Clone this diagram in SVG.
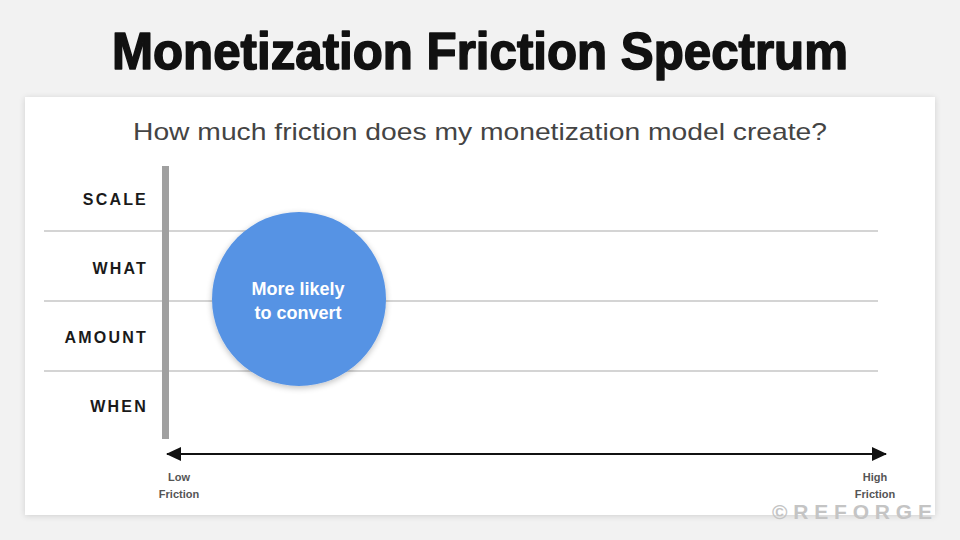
<svg xmlns="http://www.w3.org/2000/svg" width="960" height="540" viewBox="0 0 960 540">
<defs>
<filter id="sh" x="-5%" y="-5%" width="110%" height="110%"><feGaussianBlur in="SourceAlpha" stdDeviation="3"/><feOffset dy="1"/><feComponentTransfer><feFuncA type="linear" slope="0.15"/></feComponentTransfer><feMerge><feMergeNode/><feMergeNode in="SourceGraphic"/></feMerge></filter>
<filter id="csh" x="-20%" y="-20%" width="140%" height="140%"><feGaussianBlur in="SourceAlpha" stdDeviation="3"/><feOffset dy="2"/><feComponentTransfer><feFuncA type="linear" slope="0.25"/></feComponentTransfer><feMerge><feMergeNode/><feMergeNode in="SourceGraphic"/></feMerge></filter>
<marker id="ah" markerWidth="15" markerHeight="14" refX="14" refY="7" orient="auto-start-reverse" markerUnits="userSpaceOnUse"><path d="M0,0 L15,7 L0,14 Z" fill="#111"/></marker>
<style>
.row{font-family:"Liberation Sans",Arial,sans-serif;font-size:16px;font-weight:bold;letter-spacing:2.2px;fill:#1a1a1a;text-anchor:end}
.grid{stroke:#d4d4d4;stroke-width:2}
.ax{font-family:"Liberation Sans",Arial,sans-serif;font-size:11px;font-weight:bold;fill:#555;text-anchor:middle}
.bt{font-family:"Liberation Sans",Arial,sans-serif;font-size:18px;font-weight:bold;fill:#fff;text-anchor:middle}
</style>
</defs>
<rect width="960" height="540" fill="#f2f2f2"/>
<text x="480" y="69" text-anchor="middle" font-family="Liberation Sans,Arial,sans-serif" font-size="52" font-weight="900" fill="#111" stroke="#111" stroke-width="1.6" stroke-linejoin="round" textLength="736" lengthAdjust="spacingAndGlyphs">Monetization Friction Spectrum</text>
<rect x="25" y="97" width="910" height="418" fill="#fff" filter="url(#sh)"/>
<text x="480" y="140" text-anchor="middle" font-family="Liberation Sans,Arial,sans-serif" font-size="24" fill="#444" textLength="694" lengthAdjust="spacingAndGlyphs">How much friction does my monetization model create?</text>
<g id="grid">
<line class="grid" x1="44" y1="231" x2="878" y2="231"/>
<line class="grid" x1="44" y1="301" x2="878" y2="301"/>
<line class="grid" x1="44" y1="371" x2="878" y2="371"/>
</g>
<rect id="axis-bar" x="162" y="166" width="7" height="273" fill="#a0a0a0"/>
<g id="labels">
<text class="row" x="148" y="205">SCALE</text>
<text class="row" x="148" y="274">WHAT</text>
<text class="row" x="148" y="343">AMOUNT</text>
<text class="row" x="148" y="412">WHEN</text>
</g>
<g id="bubble">
<circle cx="299" cy="299" r="87" fill="#5793e4" filter="url(#csh)"/>
<text class="bt" x="298" y="295">More likely</text>
<text class="bt" x="298" y="319">to convert</text>
</g>
<g id="connectors">
<line x1="167" y1="454" x2="886" y2="454" stroke="#111" stroke-width="2" marker-start="url(#ah)" marker-end="url(#ah)"/>
</g>
<g id="low"><text class="ax" x="179" y="481">Low</text><text class="ax" x="179" y="498">Friction</text></g>
<g id="high"><text class="ax" x="875" y="481">High</text><text class="ax" x="875" y="498">Friction</text></g>
<text x="938" y="519" text-anchor="end" font-family="Liberation Sans,Arial,sans-serif" font-size="21" font-weight="bold" fill="#c4c4c4" letter-spacing="6" textLength="166">©REFORGE</text>
</svg>
